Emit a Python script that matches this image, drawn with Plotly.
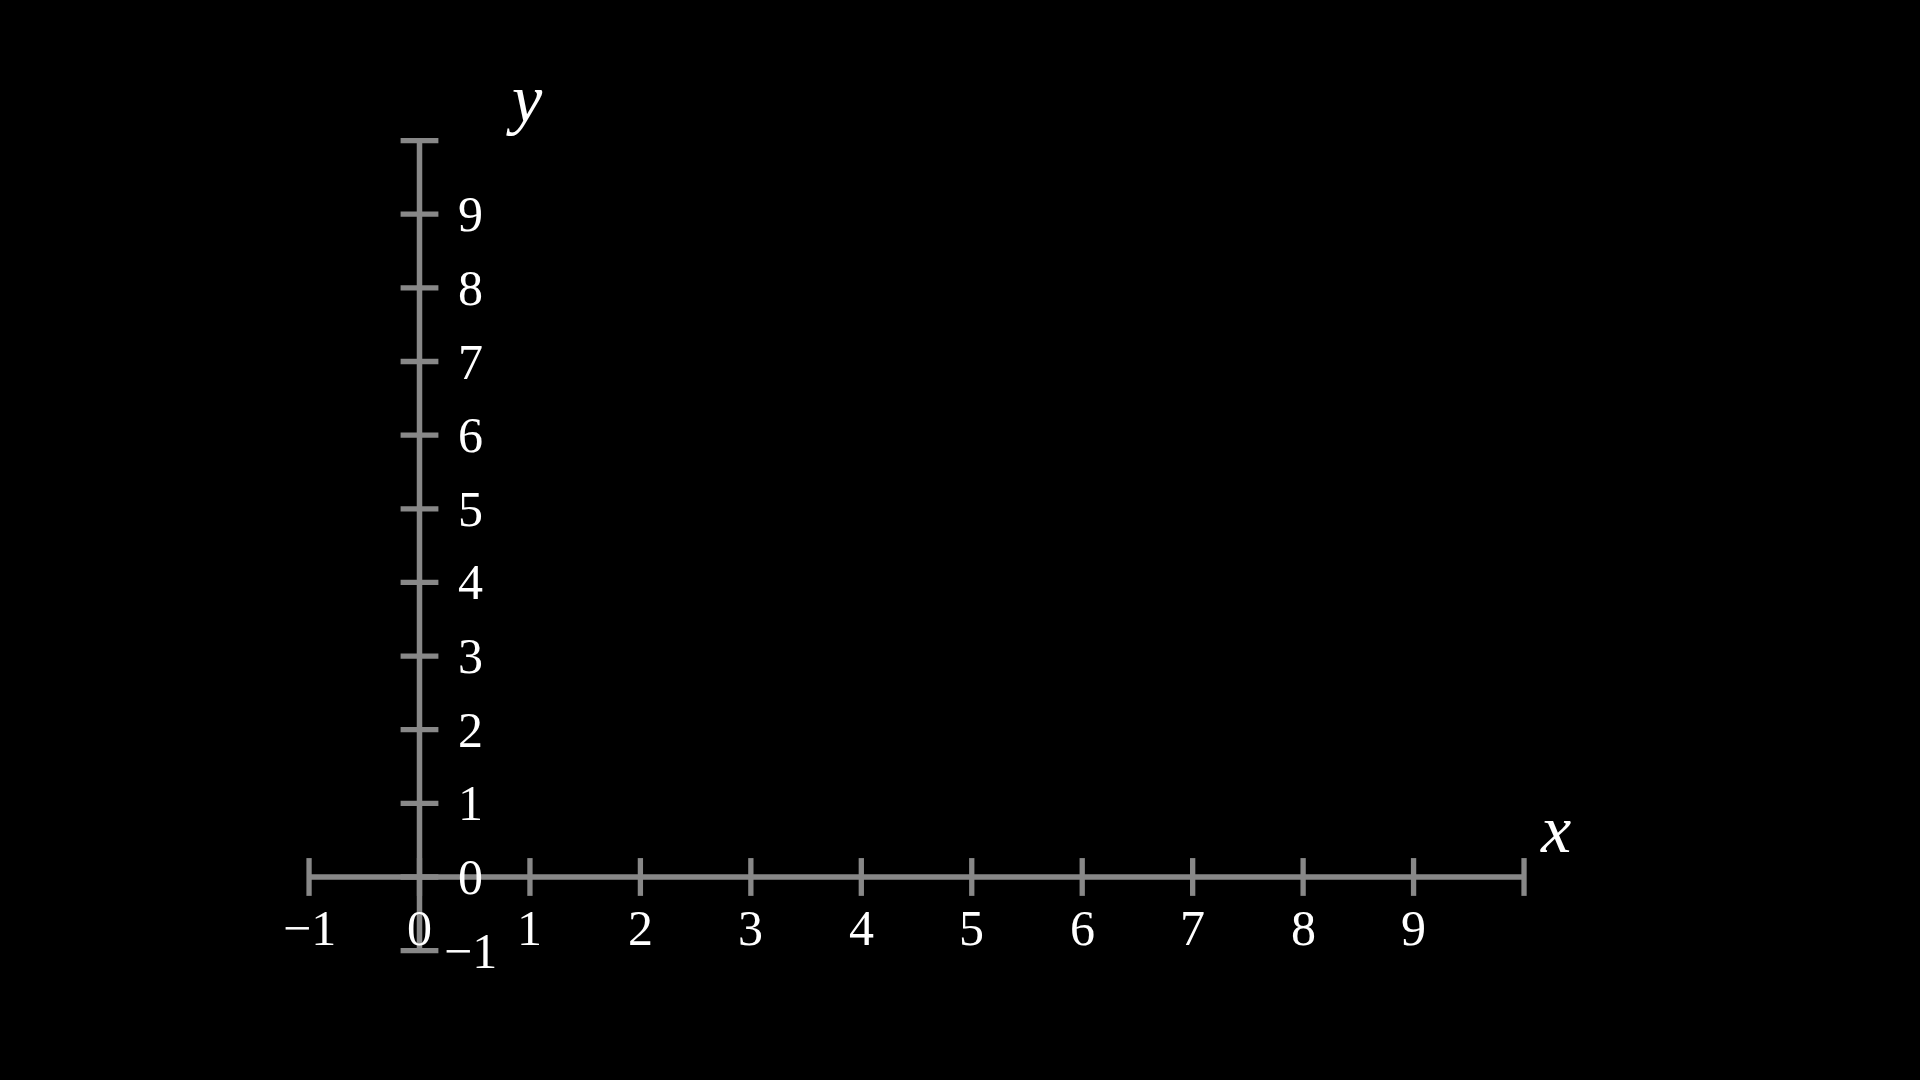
import plotly.graph_objects as go

# axis extents and tick labels
x_min, x_max = -1, 10
y_min, y_max = -1, 10
x_ticks = [-1, 0, 1, 2, 3, 4, 5, 6, 7, 8, 9, 10]
y_ticks = [-1, 0, 1, 2, 3, 4, 5, 6, 7, 8, 9, 10]
x_tick_labels = ["\u22121", "0", "1", "2", "3", "4", "5", "6", "7", "8", "9"]
y_tick_labels = ["\u22121", "0", "1", "2", "3", "4", "5", "6", "7", "8", "9"]
x_title = "x"
y_title = "y"

GREY = "#888888"
FONT = "'Liberation Serif', 'Times New Roman', serif"

fig = go.Figure()

# axis lines
fig.add_trace(go.Scatter(x=[x_min, x_max], y=[0, 0], mode="lines",
                         line=dict(color=GREY, width=5.5), hoverinfo="skip"))
fig.add_trace(go.Scatter(x=[0, 0], y=[y_min, y_max], mode="lines",
                         line=dict(color=GREY, width=5.5), hoverinfo="skip"))

# tick marks
fig.add_trace(go.Scatter(
    x=x_ticks, y=[0] * len(x_ticks), mode="markers", hoverinfo="skip",
    marker=dict(symbol="line-ns", size=27, line=dict(color=GREY, width=5.3)),
))
fig.add_trace(go.Scatter(
    x=[0] * len(y_ticks), y=y_ticks, mode="markers", hoverinfo="skip",
    marker=dict(symbol="line-ew", size=27, line=dict(color=GREY, width=5.3)),
))

# tick labels
for val, txt in zip(x_ticks, x_tick_labels):
    fig.add_annotation(x=val, y=0, text=txt, showarrow=False, yshift=-51,
                       font=dict(family=FONT, size=50, color="white"))
for val, txt in zip(y_ticks, y_tick_labels):
    fig.add_annotation(x=0, y=val, text=txt, showarrow=False, xshift=51,
                       font=dict(family=FONT, size=50, color="white"))

# axis titles
fig.add_annotation(x=x_max, y=0, text=f"<i>{x_title}</i>", showarrow=False,
                   xshift=31, yshift=48,
                   font=dict(family=FONT, size=68, color="white"))
fig.add_annotation(x=0, y=y_max, text=f"<i>{y_title}</i>", showarrow=False,
                   xshift=105, yshift=42,
                   font=dict(family=FONT, size=68, color="white"))

# map data units to pixels: 110.45 px per x unit, 73.64 px per y unit
fig.update_layout(
    width=1920, height=1080,
    margin=dict(l=0, r=0, t=0, b=0),
    paper_bgcolor="black", plot_bgcolor="black",
    showlegend=False,
    xaxis=dict(range=[-3.798, 13.585], visible=False, fixedrange=True),
    yaxis=dict(range=[-2.757, 11.909], visible=False, fixedrange=True),
)

fig.write_html("out.html", config={"displayModeBar": False},
               post_script="document.body.style.margin='0';"
                           "document.body.style.overflow='hidden';")
